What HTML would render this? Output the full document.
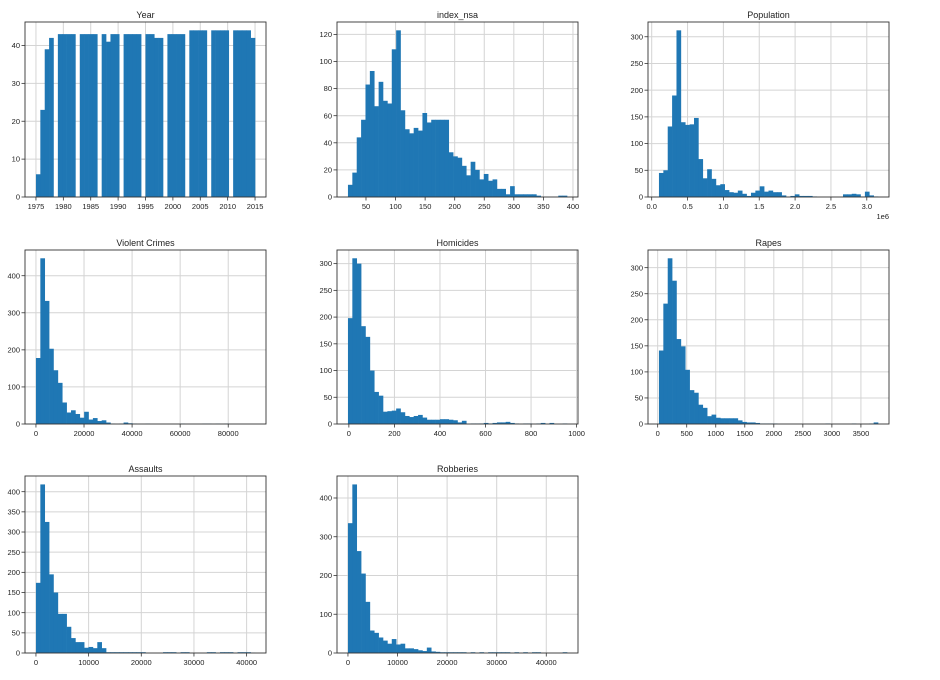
<!DOCTYPE html>
<html><head><meta charset="utf-8"><style>
body{margin:0;background:#fff;width:940px;height:680px;overflow:hidden}
svg{display:block;font-family:"Liberation Sans","DejaVu Sans",sans-serif}
</style></head><body>
<svg id="chart" width="940" height="680" viewBox="0 0 940 680"></svg>
<script>
// ---- data ----
const yearValues = [1975,1976,1977,1978,1979,1980,1981,1982,1983,1984,1985,1986,1987,1988,1989,1990,1991,1992,1993,1994,1995,1996,1997,1998,1999,2000,2001,2002,2003,2004,2005,2006,2007,2008,2009,2010,2011,2012,2013,2014,2015];
const yearCounts = [6,23,39,42,43,43,43,43,43,43,43,43,43,41,43,43,43,43,43,43,43,43,42,42,43,43,43,43,44,44,44,44,44,44,44,44,44,44,44,44,42];
const indexCounts = [9,18,44,57,83,93,67,85,71,69,109,123,64,50,47,51,49,62,55,57,57,57,57,33,30,29,23,16,26,20,13,17,12,13,6,6,2,8,2,2,2,2,2,1,0,0,0,0,1,1];
const populationCounts = [45,50,132,190,312,140,135,136,148,71,35,52,34,22,24,13,9,8,12,6,2,8,12,20,10,12,9,9,3,0,2,5,2,2,2,1,0,0,0,0,0,0,5,5,6,5,1,10,3,1];
const violentCounts = [178,447,332,203,145,111,58,31,37,27,17,33,12,16,8,10,4,1,0,1,4,2,1,0,0,1,0,0,0,0,0,0,0,1,0,0,0,0,1,1,0,1,0,1,0,0,0,0,0,0];
const homicideCounts = [198,310,300,183,163,100,60,53,23,24,25,29,22,15,13,15,17,12,8,8,8,9,9,8,7,3,6,0,1,1,1,2,1,2,3,3,4,2,1,0,1,1,0,1,2,0,2,0,0,1];
const rapeCounts = [141,231,318,275,163,149,104,65,60,37,31,15,18,12,11,11,11,11,7,4,3,3,2,1,1,1,1,0,0,0,0,0,0,0,0,0,0,0,1,0,0,0,0,0,1,0,0,0,1,3];
const assaultCounts = [174,418,325,195,150,97,97,65,37,27,27,13,15,12,27,12,2,2,2,2,2,2,2,2,2,0,0,0,0,2,2,2,0,2,2,0,0,0,0,2,2,0,2,2,2,0,2,2,2,1];
const robberyCounts = [335,435,263,205,132,58,52,40,32,24,36,22,24,12,12,10,7,5,14,4,3,2,2,2,2,2,2,0,2,0,2,0,2,2,2,2,2,0,2,0,2,0,2,2,0,0,0,0,0,2];
const yearTicks = [1975,1980,1985,1990,1995,2000,2005,2010,2015];
const indexTicks = [50,100,150,200,250,300,350,400];
const populationTicks = [0,0.5,1.0,1.5,2.0,2.5,3.0];
const populationTickLabels = ["0.0","0.5","1.0","1.5","2.0","2.5","3.0"];
const violentTicks = [0,20000,40000,60000,80000];
const homicideTicks = [0,200,400,600,800,1000];
const rapeTicks = [0,500,1000,1500,2000,2500,3000,3500];
const tenKTicks = [0,10000,20000,30000,40000];

// year histogram: 50 bins from 1975 to 2015
const yearBins = new Array(50).fill(0);
yearValues.forEach((y,i)=>{let b=Math.floor((y-1975)/0.8+1e-9); if(b>49)b=49; yearBins[b]+=yearCounts[i];});

const NS="http://www.w3.org/2000/svg";
const svg=document.getElementById('chart');
function mk(tag,attrs,parent){const e=document.createElementNS(NS,tag);for(const k in attrs)e.setAttribute(k,attrs[k]);(parent||svg).appendChild(e);return e;}

const cols=[[25,266],[337,578],[648,889]];
const rows=[[22,197],[250,424],[476,653]];

const panels=[
 {name:'year',title:'Year',c:0,r:0,counts:yearBins,a:1975,b:2015,xt:yearTicks,yt:[0,10,20,30,40]},
 {name:'index-nsa',title:'index_nsa',c:1,r:0,counts:indexCounts,a:19.5,b:390,xt:indexTicks,yt:[0,20,40,60,80,100,120]},
 {name:'population',title:'Population',c:2,r:0,counts:populationCounts,a:0.1012,b:3.157,xt:populationTicks,xl:populationTickLabels,yt:[0,50,100,150,200,250,300],offset:'1e6'},
 {name:'violent-crimes',title:'Violent Crimes',c:0,r:1,counts:violentCounts,a:0,b:91160,xt:violentTicks,yt:[0,100,200,300,400]},
 {name:'homicides',title:'Homicides',c:1,r:1,counts:homicideCounts,a:-4,b:958,xt:homicideTicks,yt:[0,50,100,150,200,250,300]},
 {name:'rapes',title:'Rapes',c:2,r:1,counts:rapeCounts,a:22,b:3795,xt:rapeTicks,yt:[0,50,100,150,200,250,300]},
 {name:'assaults',title:'Assaults',c:0,r:2,counts:assaultCounts,a:0,b:41600,xt:tenKTicks,yt:[0,50,100,150,200,250,300,350,400]},
 {name:'robberies',title:'Robberies',c:1,r:2,counts:robberyCounts,a:0,b:44190,xt:tenKTicks,yt:[0,100,200,300,400]},
];

panels.forEach(p=>{
  const [L,R]=cols[p.c],[T,B]=rows[p.r];
  const g=mk('g',{});
  
  
  const span=p.b-p.a, xmin=p.a-0.05*span, xmax=p.b+0.05*span;
  const ymax=Math.max(...p.counts)*1.05;
  const X=v=>L+(v-xmin)/(xmax-xmin)*(R-L);
  const Y=v=>B-v/ymax*(B-T);
  p.xt.forEach(t=>{const l=mk('line',{x1:X(t),x2:X(t),y1:T,y2:B,stroke:'#d4d4d4','stroke-width':1},g);
    });
  p.yt.forEach(t=>{const l=mk('line',{x1:L,x2:R,y1:Y(t),y2:Y(t),stroke:'#d4d4d4','stroke-width':1},g);
    });
  const w=span/p.counts.length;
  p.counts.forEach((c,i)=>{ if(c<=0)return;
    const x0=X(p.a+i*w), x1=X(p.a+(i+1)*w);
    const r=mk('rect',{x:x0,y:Y(c),width:x1-x0+0.3,height:B-Y(c),fill:'#1f77b4'},g);
    
    
  });
  const fr=mk('rect',{x:L,y:T,width:R-L,height:B-T,fill:'none',stroke:'#333','stroke-width':0.9},g);
  
  p.xt.forEach((t,i)=>{
    mk('line',{x1:X(t),x2:X(t),y1:B,y2:B+3.5,stroke:'#333','stroke-width':0.8},g);
    const tx=mk('text',{x:X(t),y:B+12,'font-size':7.5,'text-anchor':'middle',fill:'#222'},g);
    tx.textContent=p.xl?p.xl[i]:String(t);
    
  });
  p.yt.forEach(t=>{
    mk('line',{x1:L-3.5,x2:L,y1:Y(t),y2:Y(t),stroke:'#333','stroke-width':0.8},g);
    const tx=mk('text',{x:L-5,y:Y(t)+2.6,'font-size':7.5,'text-anchor':'end',fill:'#222'},g);
    tx.textContent=String(t);
    
  });
  const ti=mk('text',{x:(L+R)/2,y:T-4,'font-size':9,'text-anchor':'middle',fill:'#222'},g);
  ti.textContent=p.title;
  
  if(p.offset){const o=mk('text',{x:R,y:B+22,'font-size':7.5,'text-anchor':'end',fill:'#222'},g);
    o.textContent=p.offset;
    }
});
</script>
</body></html>
